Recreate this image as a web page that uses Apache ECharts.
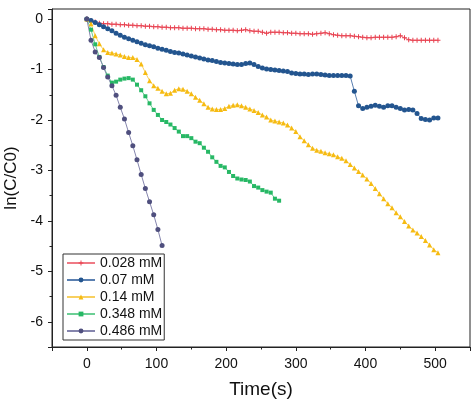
<!DOCTYPE html>
<html>
<head>
<meta charset="utf-8">
<script src="https://cdn.jsdelivr.net/npm/echarts@6/dist/echarts.min.js"></script>
<style>
  html, body { margin: 0; padding: 0; background: #fff; }
  #chart { width: 474px; height: 399px; }
</style>
</head>
<body>
<div id="chart"></div>
<script>
// sampling times (s)
var time = [0, 6, 12, 18, 24, 30, 36, 42, 48, 54, 60, 66, 72, 78, 84, 90, 96, 102, 108, 114,
  120, 126, 132, 138, 144, 150, 156, 162, 168, 174, 180, 186, 192, 198, 204, 210, 216, 222, 228, 234,
  240, 246, 252, 258, 264, 270, 276, 282, 288, 294, 300, 306, 312, 318, 324, 330, 336, 342, 348, 354,
  360, 366, 372, 378, 384, 390, 396, 402, 408, 414, 420, 426, 432, 438, 444, 450, 456, 462, 468, 474,
  480, 486, 492, 498, 504];

var seriesNames = ['0.028 mM', '0.07 mM', '0.14 mM', '0.348 mM', '0.486 mM'];

var c028 = [0, -0.03, -0.06, -0.08, -0.09, -0.09, -0.1, -0.1, -0.11, -0.11,
  -0.12, -0.12, -0.13, -0.13, -0.14, -0.14, -0.15, -0.15, -0.16, -0.16,
  -0.17, -0.17, -0.17, -0.18, -0.18, -0.18, -0.19, -0.19, -0.19, -0.2,
  -0.2, -0.21, -0.21, -0.22, -0.22, -0.22, -0.23, -0.22, -0.21, -0.23,
  -0.24, -0.24, -0.26, -0.28, -0.26, -0.26, -0.26, -0.27, -0.27, -0.28,
  -0.28, -0.29, -0.29, -0.29, -0.3, -0.29, -0.28, -0.27, -0.29, -0.31,
  -0.32, -0.33, -0.33, -0.33, -0.34, -0.35, -0.36, -0.37, -0.37, -0.36,
  -0.36, -0.36, -0.36, -0.36, -0.35, -0.33, -0.37, -0.41, -0.42, -0.42,
  -0.42, -0.42, -0.42, -0.42, -0.42];

var c07 = [0, -0.03, -0.07, -0.11, -0.15, -0.19, -0.23, -0.28, -0.32, -0.36,
  -0.39, -0.42, -0.45, -0.48, -0.51, -0.53, -0.55, -0.58, -0.6, -0.62,
  -0.64, -0.66, -0.67, -0.69, -0.71, -0.73, -0.75, -0.77, -0.79, -0.81,
  -0.82, -0.84, -0.86, -0.87, -0.88, -0.89, -0.9, -0.9, -0.88, -0.87,
  -0.9, -0.94, -0.97, -0.99, -1.0, -1.01, -1.02, -1.03, -1.04, -1.07,
  -1.08, -1.09, -1.09, -1.1, -1.09, -1.09, -1.1, -1.11, -1.12, -1.12,
  -1.12, -1.12, -1.12, -1.13, -1.43, -1.72, -1.77, -1.75, -1.73, -1.71,
  -1.73, -1.75, -1.72, -1.72, -1.75, -1.77, -1.8, -1.79, -1.8, -1.87,
  -1.97, -1.99, -2.0, -1.96, -1.96];

var c14 = [0, -0.09, -0.33, -0.49, -0.61, -0.66, -0.67, -0.69, -0.71, -0.74,
  -0.76, -0.76, -0.8, -0.89, -1.06, -1.22, -1.32, -1.37, -1.43, -1.48,
  -1.47, -1.41, -1.38, -1.39, -1.43, -1.48, -1.55, -1.61, -1.68, -1.75,
  -1.78, -1.79, -1.79, -1.77, -1.73, -1.71, -1.7, -1.72, -1.75, -1.78,
  -1.81, -1.85, -1.9, -1.94, -2.0, -2.02, -2.04, -2.06, -2.1, -2.16,
  -2.23, -2.33, -2.41, -2.49, -2.56, -2.6, -2.62, -2.65, -2.67, -2.69,
  -2.73, -2.76, -2.81, -2.88, -2.95, -3.02, -3.09, -3.17, -3.26, -3.36,
  -3.46, -3.56, -3.66, -3.74, -3.84, -3.92, -4.01, -4.1, -4.18, -4.24,
  -4.31, -4.39, -4.48, -4.57, -4.63];

var c348 = [0, -0.21, -0.5, -0.75, -0.95, -1.12, -1.26, -1.24, -1.2, -1.18,
  -1.17, -1.2, -1.3, -1.41, -1.53, -1.67, -1.8, -1.9, -2.0, -2.04,
  -2.09, -2.16, -2.23, -2.32, -2.32, -2.36, -2.43, -2.46, -2.55, -2.63,
  -2.74, -2.83, -2.91, -2.94, -3.03, -3.11, -3.16, -3.18, -3.19, -3.22,
  -3.31, -3.34, -3.39, -3.42, -3.44, -3.56, -3.6];

var c486 = [0, -0.42, -0.65, -0.76, -0.96, -1.15, -1.32, -1.51, -1.75, -1.98,
  -2.25, -2.51, -2.79, -3.08, -3.36, -3.62, -3.88, -4.17, -4.49];

var font = 'Liberation Sans, Arial, sans-serif';
var plusPath = 'path://M4,0H6V4H10V6H6V10H4V6H0V4H4Z';

function pairs(vals) {
  return vals.map(function (v, i) { return [time[i], v]; });
}

function makeSeries(name, vals, symbol, size, color, lineColor) {
  return {
    name: name,
    type: 'line',
    data: pairs(vals),
    symbol: symbol,
    symbolSize: size,
    showAllSymbol: true,
    animation: false,
    itemStyle: { color: color },
    lineStyle: { color: lineColor, width: 1 }
  };
}

var chart = echarts.init(document.getElementById('chart'));

chart.setOption({
  animation: false,
  grid: {
    left: 52, right: 4, top: 9, bottom: 52,
    outerBoundsMode: 'none',
    containLabel: false,
    show: true, borderColor: '#222', borderWidth: 1
  },
  legend: {
    orient: 'vertical',
    left: 63, top: 254,
    itemWidth: 28, itemHeight: 6, itemGap: 3,
    padding: [2, 2, 2, 3],
    borderColor: '#333', borderWidth: 1,
    textStyle: { fontFamily: font, fontSize: 14, color: '#111' },
    data: seriesNames
  },
  xAxis: {
    type: 'value',
    min: -50, max: 550,
    name: 'Time(s)',
    nameLocation: 'middle',
    nameGap: 33,
    nameTextStyle: { fontFamily: font, fontSize: 19, color: '#111' },
    axisLine: { onZero: false, lineStyle: { color: '#222' } },
    axisTick: { length: 4, lineStyle: { color: '#222' } },
    minorTick: { show: true, splitNumber: 2, length: 2.5, lineStyle: { color: '#222' } },
    axisLabel: { fontFamily: font, fontSize: 14, color: '#111', margin: 10, showMinLabel: false, showMaxLabel: false },
    splitLine: { show: false }
  },
  yAxis: {
    type: 'value',
    min: -6.5, max: 0.2,
    name: 'ln(C/C0)',
    nameLocation: 'middle',
    nameGap: 29,
    nameTextStyle: { fontFamily: font, fontSize: 17, color: '#111' },
    axisLine: { show: true, onZero: false, lineStyle: { color: '#222' } },
    axisTick: { show: true, length: 4, lineStyle: { color: '#222' } },
    minorTick: { show: true, splitNumber: 2, length: 2.5, lineStyle: { color: '#222' } },
    axisLabel: { fontFamily: font, fontSize: 14, color: '#111', margin: 9, showMinLabel: false, showMaxLabel: false },
    splitLine: { show: false }
  },
  series: [
    makeSeries(seriesNames[0], c028, plusPath, 5, '#e8404f', '#ef7a85'),
    makeSeries(seriesNames[1], c07, 'circle', 5, '#23558f', '#5a7fb0'),
    makeSeries(seriesNames[2], c14, 'triangle', 5, '#f6bb12', '#f8d060'),
    makeSeries(seriesNames[3], c348, 'rect', 4, '#27b865', '#6ccf95'),
    makeSeries(seriesNames[4], c486, 'circle', 5, '#4f4f7e', '#8585ad')
  ]
});
</script>
</body>
</html>
